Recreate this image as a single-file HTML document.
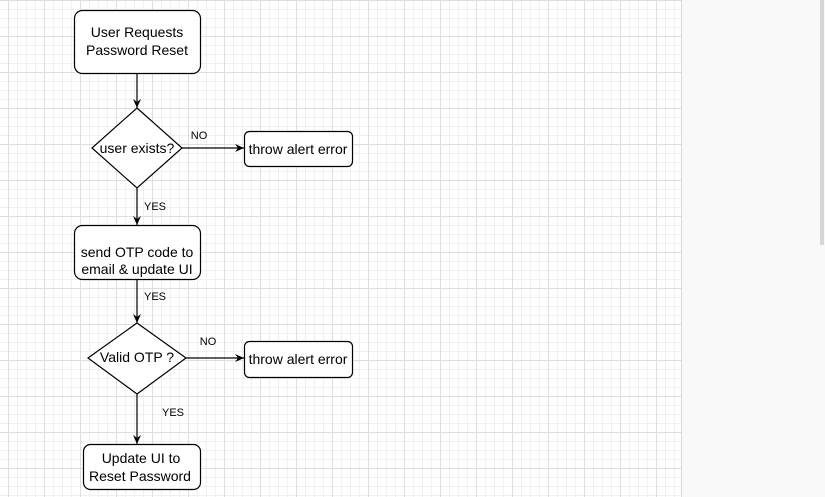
<!DOCTYPE html>
<html><head><style>
html,body{margin:0;padding:0;}
body{width:825px;height:497px;overflow:hidden;background:#f9f9f9;position:relative;font-family:"Liberation Sans",Arial,sans-serif;}
#grid{position:absolute;left:0;top:0;width:681px;height:497px;background-color:#fff;
background-image:
linear-gradient(#dedede 1px,transparent 1px),
linear-gradient(90deg,#dedede 1px,transparent 1px),
linear-gradient(#f0f0f0 1px,transparent 1px),
linear-gradient(90deg,#f0f0f0 1px,transparent 1px);
background-size:36px 36px,36px 36px,9px 9px,9px 9px;
background-position:0 0,8px 0,0 0,8px 0;
border-right:1px solid #d8d8d8;}
#sb{position:absolute;left:820px;top:0;width:4px;height:245px;background:#d6d6d6;}
svg{position:absolute;left:0;top:0;}
</style></head><body>
<div id="grid"></div><div id="sb"></div>
<svg width="825" height="497" font-family="Liberation Sans, Arial, sans-serif">
<defs><marker id="a" markerWidth="10" markerHeight="10" refX="9" refY="5" orient="auto" markerUnits="userSpaceOnUse"><path d="M0,1 L9,5 L0,9 L3,5 Z" fill="#000"/></marker></defs>
<g fill="#fff" stroke="#000" stroke-width="1.2">
<rect x="74.5" y="10.5" width="126" height="63" rx="8"/>
<polygon points="137,108 182,148 137,188 92,148"/>
<rect x="244.5" y="131.5" width="108" height="35" rx="5"/>
<rect x="74.5" y="225.5" width="126" height="54" rx="8"/>
<polygon points="137,323 186,358 137,394 88,358"/>
<rect x="244.5" y="341.5" width="108" height="36" rx="5"/>
<rect x="83.5" y="444.5" width="117" height="45" rx="7"/>
</g>
<g stroke="#000" stroke-width="1.2" fill="none" marker-end="url(#a)">
<line x1="137" y1="73" x2="137" y2="108"/>
<line x1="182" y1="148" x2="244" y2="148"/>
<line x1="137" y1="188" x2="137" y2="225"/>
<line x1="137" y1="279" x2="137" y2="323"/>
<line x1="186" y1="358" x2="244" y2="358"/>
<line x1="137" y1="394" x2="137" y2="444"/>
</g>
<g font-size="14" fill="#000" text-anchor="middle">
<text x="137" y="37">User Requests</text>
<text x="137" y="55">Password Reset</text>
<text x="137" y="153">user exists?</text>
<text x="298" y="154">throw alert error</text>
<text x="137" y="257">send OTP code to</text>
<text x="137" y="274">email &amp; update UI</text>
<text x="137" y="362">Valid OTP ?</text>
<text x="298" y="364">throw alert error</text>
<text x="141" y="463">Update UI to</text>
<text x="140" y="481">Reset Password</text>
</g>
<g font-size="11" fill="#000" text-anchor="middle">
<text x="199" y="139">NO</text>
<text x="155" y="210">YES</text>
<text x="155" y="300">YES</text>
<text x="208" y="345">NO</text>
<text x="173" y="416">YES</text>
</g>
</svg>
</body></html>
